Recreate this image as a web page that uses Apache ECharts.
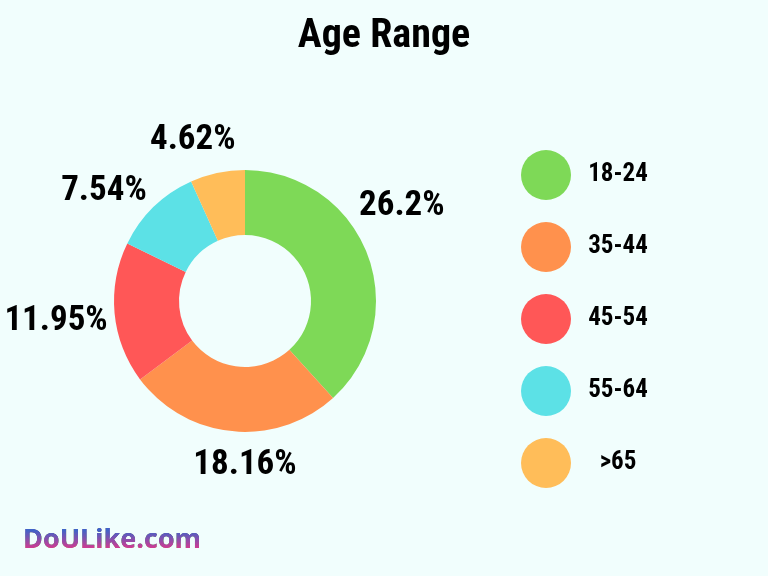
<!DOCTYPE html>
<html>
<head>
<meta charset="utf-8">
<script src="https://cdn.jsdelivr.net/npm/echarts@6/dist/echarts.min.js"></script>
<style>
html,body{margin:0;padding:0;background:#F1FEFD;}
#main{width:768px;height:576px;}
</style>
</head>
<body>
<div id="main"></div>
<script>
const categories = ['18-24', '35-44', '45-54', '55-64', '>65'];
const values = [26.2, 18.16, 11.95, 7.54, 4.62];
const labels = ['26.2%', '18.16%', '11.95%', '7.54%', '4.62%'];
const colors = ['#7ED957', '#FF914D', '#FF5757', '#5CE1E6', '#FFBD59'];

// label placement: [angle clockwise from top (deg), distance from pie centre (px)]
const labelPolar = [[59, 183], [180, 164], [264, 190], [308, 179], [342, 169]];

const FONT = '"Roboto Condensed", "Liberation Sans Narrow", "DejaVu Sans Condensed", sans-serif';
const CX = 245, CY = 301;

const chart = echarts.init(document.getElementById('main'));
chart.setOption({
  backgroundColor: '#F1FEFD',
  title: {
    text: 'Age Range',
    left: 'center',
    top: 12,
    textStyle: { fontFamily: FONT, fontWeight: 'bold', fontSize: 40, color: '#000' }
  },
  legend: {
    orient: 'vertical',
    left: 521,
    top: 150,
    padding: 0,
    icon: 'circle',
    itemWidth: 50,
    itemHeight: 50,
    itemGap: 22,
    selectedMode: false,
    data: categories,
    formatter: '{a|{name}}',
    textStyle: {
      fontFamily: FONT, fontWeight: 'bold', fontSize: 25, color: '#000',
      rich: { a: { fontFamily: FONT, fontWeight: 'bold', fontSize: 25, color: '#000', width: 84, align: 'center' } }
    }
  },
  graphic: [{
    type: 'text',
    left: 23,
    top: 527,
    z: 100,
    style: {
      text: 'DoULike.com',
      font: 'bold 27px "Open Sans", "Noto Sans", sans-serif',
      fill: '#000'
    }
  }, {
    type: 'rect',
    left: 18,
    top: 526,
    z: 101,
    shape: { width: 192, height: 34 },
    style: {
      blend: 'lighten',
      fill: {
        type: 'linear', x: 0, y: 0, x2: 0, y2: 1,
        colorStops: [{ offset: 0.12, color: '#3F64C8' }, { offset: 0.72, color: '#E4368B' }]
      }
    }
  }],
  series: [{
    type: 'pie',
    center: [CX, CY],
    radius: [66, 131],
    startAngle: 90,
    clockwise: true,
    avoidLabelOverlap: false,
    data: categories.map((c, i) => ({ name: c, value: values[i], itemStyle: { color: colors[i] } })),
    label: {
      show: true,
      position: 'outside',
      formatter: p => labels[p.dataIndex],
      fontFamily: FONT,
      fontWeight: 'bold',
      fontSize: 35,
      color: '#000'
    },
    labelLine: { show: false, length: 12, length2: 0 },
    labelLayout: function (params) {
      const p = labelPolar[params.dataIndex];
      const a = p[0] * Math.PI / 180;
      return {
        x: CX + p[1] * Math.sin(a),
        y: CY - p[1] * Math.cos(a),
        align: 'center',
        verticalAlign: 'middle'
      };
    },
    emphasis: { disabled: true }
  }]
});
</script>
</body>
</html>
